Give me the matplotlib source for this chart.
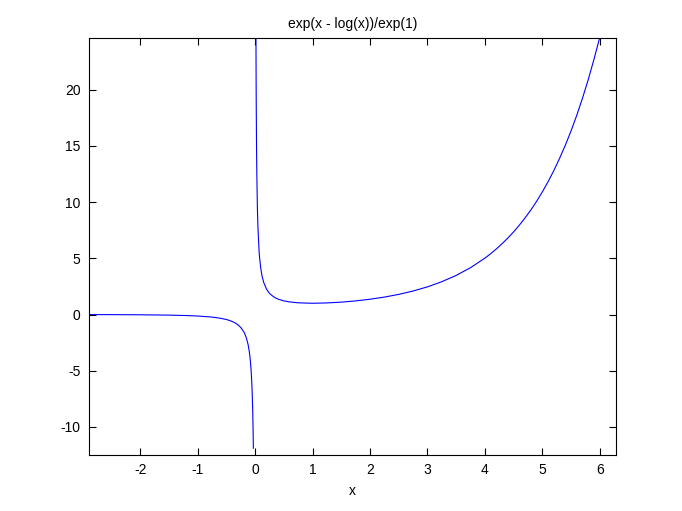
import matplotlib
matplotlib.use("Agg")
import matplotlib.pyplot as plt

# points, left branch (x < 0)
x_neg = [-2.88, -2.5, -2.0, -1.5, -1.2, -1.0, -0.8, -0.7, -0.6, -0.5, -0.45, -0.4,
         -0.35, -0.3, -0.25, -0.2, -0.18, -0.15, -0.12, -0.1, -0.09, -0.08, -0.07,
         -0.06, -0.05, -0.04, -0.035, -0.03]
y_neg = [-0.007, -0.012, -0.025, -0.055, -0.092, -0.135, -0.207, -0.261, -0.337,
         -0.446, -0.521, -0.62, -0.741, -0.91, -1.15, -1.51, -1.707, -2.11, -2.71,
         -3.33, -3.74, -4.26, -4.90, -5.80, -7.00, -8.83, -10.15, -11.9]

# right branch (x > 0)
x_pos = [0.015, 0.018, 0.02, 0.025, 0.03, 0.04, 0.05, 0.07, 0.08, 0.1, 0.12, 0.15,
         0.2, 0.25, 0.3, 0.35, 0.4, 0.5, 0.6, 0.75, 1.0, 1.25, 1.5, 1.75, 2.0,
         2.25, 2.5, 2.75, 3.0, 3.25, 3.5, 3.75, 4.0, 4.1, 4.2, 4.3, 4.4, 4.5,
         4.6, 4.7, 4.8, 4.9, 5.0, 5.1, 5.2, 5.3, 5.4, 5.5, 5.6, 5.7, 5.8, 5.9,
         5.95, 6.0, 6.02]
y_pos = [24.9, 20.8, 18.8, 15.1, 12.6, 9.5, 7.73, 5.58, 4.98, 4.07, 3.46, 2.85,
         2.25, 1.89, 1.66, 1.49, 1.37, 1.21, 1.12, 1.04, 1.0, 1.03, 1.10, 1.21, 1.36,
         1.55, 1.79, 2.09, 2.46, 2.92, 3.48, 4.17, 5.02, 5.41, 5.84, 6.31, 6.81, 7.36,
         7.96, 8.61, 9.31, 10.08, 10.92, 11.83, 12.82, 13.91, 15.08, 16.36, 17.76,
         19.29, 20.95, 22.76, 23.73, 24.7, 25.1]

xticks = [-2, -1, 0, 1, 2, 3, 4, 5, 6]
yticks = [-10, -5, 0, 5, 10, 15, 20]

plt.rcParams['font.family'] = ['Liberation Sans', 'DejaVu Sans']
plt.rcParams['axes.unicode_minus'] = False

fig = plt.figure(figsize=(6.82, 5.11), dpi=100)
ax = fig.add_axes([0.1305, 0.1096, 0.7727, 0.816])

ax.plot(x_neg, y_neg, color='blue', linewidth=0.8)
ax.plot(x_pos, y_pos, color='blue', linewidth=0.8)

ax.set_xlim(-2.89, 6.28)
ax.set_ylim(-12.5, 24.6)
ax.set_xticks(xticks)
ax.set_yticks(yticks)
ax.tick_params(direction='in', top=True, right=True, length=5, width=0.8,
               labelsize=10, pad=6)
for s in ax.spines.values():
    s.set_linewidth(0.8)

ax.set_title('exp(x - log(x))/exp(1)', fontsize=10, pad=7)
ax.set_xlabel('x', fontsize=10, labelpad=5)

fig.savefig('out.png', dpi=100)
